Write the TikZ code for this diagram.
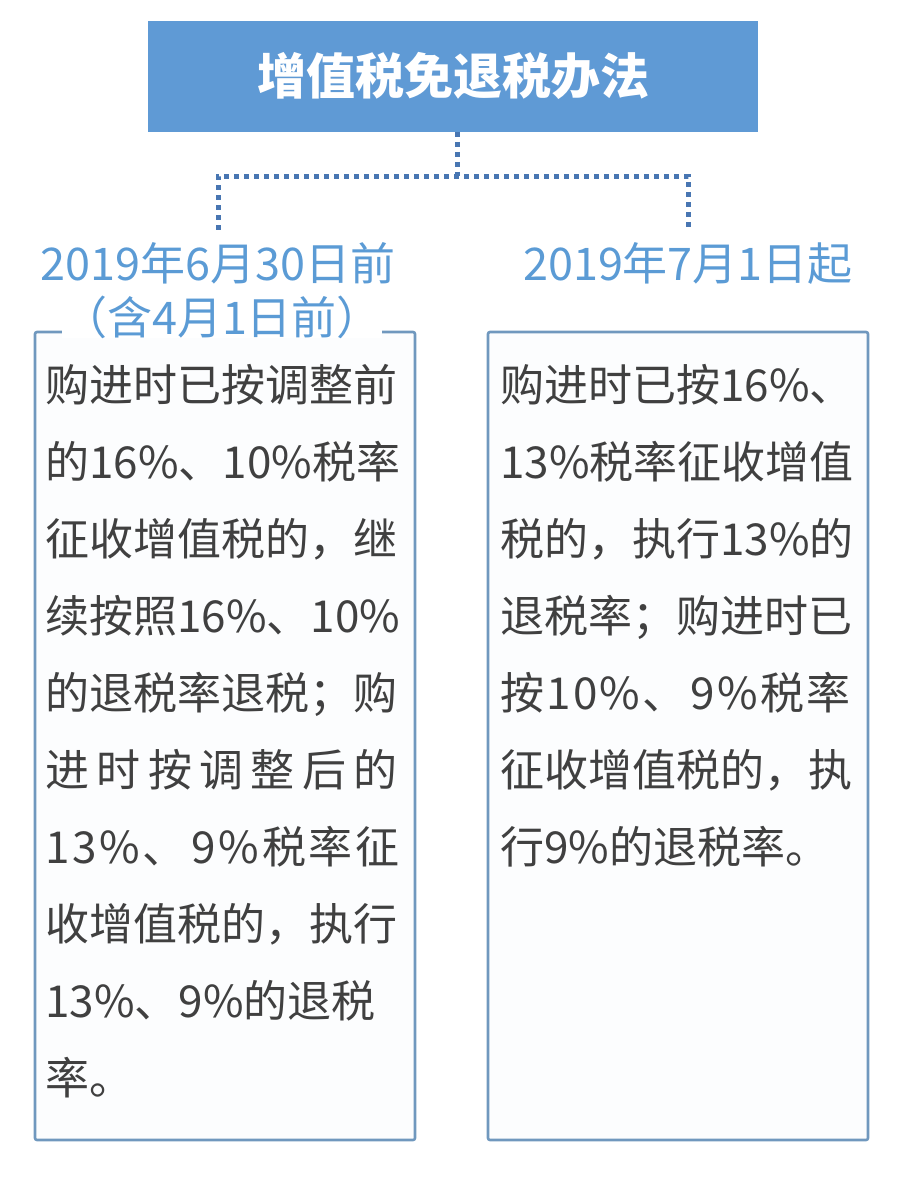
\documentclass[tikz,border=0pt]{standalone}
\usepackage{fontspec}
\setmainfont{Noto Sans CJK SC}
\usepackage{tikz}
\usetikzlibrary{positioning}
\definecolor{vatblue}{RGB}{95,154,213}
\definecolor{vathead}{RGB}{91,155,213}
\definecolor{vatline}{RGB}{112,152,190}
\definecolor{vatdot}{RGB}{72,118,178}
\definecolor{vattext}{RGB}{64,64,64}
\definecolor{vatpanel}{RGB}{252,253,254}
\tikzstyle{titlebox} = [fill=vatblue, text=white, minimum width=305pt, minimum height=55.5pt, font=\fontsize{24.5}{28}\selectfont\bfseries]
\tikzstyle{heading} = [text=vathead, inner xsep=0pt, inner ysep=6pt, font=\fontsize{22.5}{26}\selectfont]
\tikzstyle{panel} = [draw=vatline, line width=1.3pt, fill=vatpanel, rounded corners=1pt]
\tikzstyle{bodytext} = [text=vattext, inner sep=0pt, align=left, text width=182pt, anchor=north west, font=\fontsize{22}{38.5}\selectfont]
\tikzstyle{dotline} = [vatdot, line width=2.5pt, dash pattern=on 2.5pt off 2.5pt]

\begin{document}
\begin{tikzpicture}[x=0.5pt, y=-0.5pt]
\useasboundingbox (0,0) rectangle (900,1199);
% Title
\node[titlebox] (title) at (453,76) {增值税免退税办法};

% Panels
\draw[panel] (35,332) rectangle (415,1140);
\draw[panel] (488,332) rectangle (868,1140);

% Headings
\node[heading, anchor=base] (lhead) at (218,280) {2019年6月30日前};
\node[heading, anchor=base, fill=white, inner ysep=0pt] (lnote) at (222,334) {（含4月1日前）};
\node[heading, anchor=base] (rhead) at (688,280) {2019年7月1日起};

% Connectors
\coordinate (fork) at (457,176);
\draw[dotline] ([xshift=2pt]title.south) -- (fork);
\draw[dotline] (lhead.north) |- (fork) -| (rhead.north);

% Texts
\node[bodytext] (ltext) at (45,364) {购进时已按调整前\\
的16\%、10\%税率\\
征收增值税的，继\\
续按照16\%、10\%\\
的退税率退税；购\\
\makebox[176pt][s]{进\hfill 时\hfill 按\hfill 调\hfill 整\hfill 后\hfill 的}\\
\makebox[177pt][s]{1\hfill 3\hfill \%\hfill 、\hfill\hfill 9\hfill \%\hfill 税\hfill 率\hfill 征}\\
收增值税的，执行\\
13\%、9\%的退税\\
率。};
\node[bodytext] (rtext) at (500,364) {购进时已按16\%、\\
13\%税率征收增值\\
税的，执行13\%的\\
退税率；购进时已\\
\makebox[175pt][s]{按\hfill 1\hfill 0\hfill \%\hfill 、\hfill\hfill 9\hfill \%\hfill 税\hfill 率}\\
征收增值税的，执\\
行9\%的退税率。};
\end{tikzpicture}
\end{document}
